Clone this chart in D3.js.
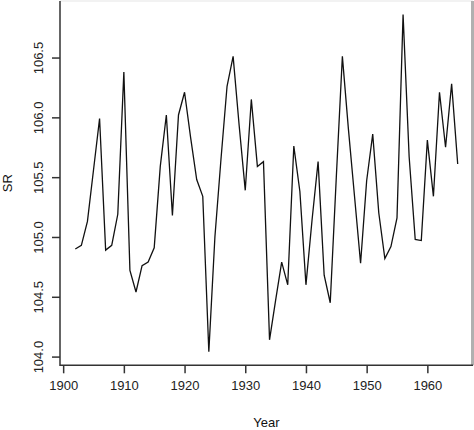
<!DOCTYPE html>
<html>
<head>
<meta charset="utf-8">
<script src="https://cdn.jsdelivr.net/npm/d3@7"></script>
<style>
  body { margin: 0; background: #fff; }
  svg { display: block; font-family: "Liberation Sans", Arial, sans-serif; }
  .tick-label { font-size: 13px; fill: #222; }
  .axis-title { font-size: 13px; fill: #111; }
</style>
</head>
<body>
<div id="chart"></div>
<script>
// SR by year
const years = d3.range(1902, 1966);
const srValues = [
  104.90, 104.93, 105.13, 105.56, 105.99, 104.89, 104.93, 105.19, 106.38, 104.72,
  104.54, 104.76, 104.79, 104.91, 105.59, 106.02, 105.18, 106.02, 106.21, 105.83,
  105.48, 105.34, 104.04, 105.00, 105.65, 106.26, 106.51, 105.93, 105.39, 106.15,
  105.59, 105.63, 104.14, 104.47, 104.79, 104.60, 105.76, 105.38, 104.60, 105.14,
  105.63, 104.68, 104.45, 105.50, 106.51, 105.90, 105.34, 104.78, 105.47, 105.86,
  105.20, 104.82, 104.92, 105.16, 106.86, 105.67, 104.98, 104.97, 105.81, 105.34,
  106.21, 105.75, 106.28, 105.61
];
const xTicks = [1900, 1910, 1920, 1930, 1940, 1950, 1960];
const yTicks = [104.0, 104.5, 105.0, 105.5, 106.0, 106.5];

const width = 474, height = 430;
const plot = { left: 60, right: 473, top: 1, bottom: 365.3 };

// R style 4% padding around the data range
function padded(ext) {
  const p = (ext[1] - ext[0]) * 0.04;
  return [ext[0] - p, ext[1] + p];
}

const x = d3.scaleLinear()
  .domain(padded(d3.extent(years)))
  .range([plot.left, plot.right]);
const y = d3.scaleLinear()
  .domain(padded(d3.extent(srValues)))
  .range([plot.bottom, plot.top]);

const svg = d3.select('#chart').append('svg')
  .attr('width', width)
  .attr('height', height);

// box
svg.append('line')
  .attr('x1', plot.left).attr('x2', plot.right)
  .attr('y1', plot.top).attr('y2', plot.top)
  .attr('stroke', '#eeeeee').attr('stroke-width', 1.5);
svg.append('line')
  .attr('x1', 472.5).attr('x2', 472.5)
  .attr('y1', plot.top).attr('y2', plot.bottom)
  .attr('stroke', '#b0b0b0').attr('stroke-width', 3);
svg.append('path')
  .attr('d', `M${plot.left},${plot.top}V${plot.bottom}H${plot.right}`)
  .attr('fill', 'none')
  .attr('stroke', '#333')
  .attr('stroke-width', 1.5);

// x axis
const xAxis = svg.append('g')
  .attr('transform', `translate(0,${plot.bottom})`)
  .call(d3.axisBottom(x).tickValues(xTicks).tickSize(8).tickPadding(7).tickFormat(d3.format('d')));
xAxis.select('.domain').remove();
xAxis.selectAll('line').attr('stroke', '#333').attr('stroke-width', 1.5);
xAxis.selectAll('text').attr('class', 'tick-label').attr('font-size', null).attr('font-family', null);

// y axis
const yAxis = svg.append('g')
  .attr('transform', `translate(${plot.left},0)`)
  .call(d3.axisLeft(y).tickValues(yTicks).tickSize(8).tickFormat(d3.format('.1f')));
yAxis.select('.domain').remove();
yAxis.selectAll('line').attr('stroke', '#333').attr('stroke-width', 1.5);
yAxis.selectAll('text')
  .attr('class', 'tick-label')
  .attr('font-size', null).attr('font-family', null)
  .attr('x', null).attr('dy', null)
  .attr('text-anchor', 'middle')
  .attr('transform', 'translate(-16.7,0) rotate(-90)');

// series line
const line = d3.line()
  .x((d, i) => x(years[i]))
  .y(d => y(d));

svg.append('path')
  .datum(srValues)
  .attr('d', line)
  .attr('fill', 'none')
  .attr('stroke', '#111')
  .attr('stroke-width', 1.3)
  .attr('stroke-linejoin', 'miter');

// axis titles
svg.append('text')
  .attr('class', 'axis-title')
  .attr('x', (plot.left + plot.right) / 2)
  .attr('y', 426.5)
  .attr('text-anchor', 'middle')
  .text('Year');

svg.append('text')
  .attr('class', 'axis-title')
  .attr('transform', `translate(11.5,${(plot.top + plot.bottom) / 2}) rotate(-90)`)
  .attr('text-anchor', 'middle')
  .text('SR');
</script>
</body>
</html>
